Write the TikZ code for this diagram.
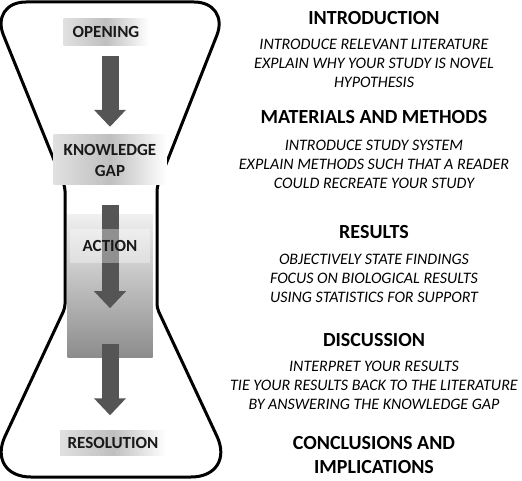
\documentclass[tikz,border=0pt]{standalone}
\usepackage{fontspec}
\setmainfont{Carlito}
\usetikzlibrary{arrows.meta,positioning}
\definecolor{arrowgrey}{HTML}{555555}

\begin{document}
\begin{tikzpicture}[x=1pt,y=-1pt,
  flask/.style={line width=3pt,draw=black,line join=round},
  tag/.style={font=\fontsize{17}{21}\selectfont\bfseries,align=center,inner sep=0pt,text=black!90},
  glow/.style={tag,left color=black!12,right color=white,middle color=black!25},
  heading/.style={font=\fontsize{20}{24}\selectfont\bfseries,align=center,inner sep=0pt},
  notes/.style={font=\fontsize{16}{19}\selectfont\itshape,align=center,inner sep=0pt},
  flow/.style={line width=17pt,draw=arrowgrey,-{Triangle[length=17pt,width=31pt,fill=arrowgrey]}}]

  \useasboundingbox (0,0) rectangle (522,481);

  % flask outline
  \draw[flask] (110,2) [rounded corners=36pt] -- (230,2) [rounded corners=4pt] -- (157,187) -- (157,308)
     [rounded corners=45pt] -- (236,477) -- (-14,477) [rounded corners=4pt] -- (65,308) -- (65,187)
     [rounded corners=36pt] -- (-10,2) -- cycle;

  % left labels
  \node[glow,minimum width=85pt,minimum height=27pt] (open) at (106,32) {OPENING};
  \node[glow,minimum width=113pt,minimum height=50pt] (gap) at (110,160) {KNOWLEDGE\\GAP};
  \node[inner sep=0pt,minimum width=85pt,minimum height=142pt,
        top color=black!6,bottom color=black!45] (actbox) at (110,286) {};
  \node[glow,minimum width=106pt,minimum height=25pt] (res) at (113,443) {RESOLUTION};

  % arrows
  \draw[flow,shorten <=10pt,shorten >=8pt] (gap.north |- open.south) -- (gap.north);
  \draw[flow,shorten <=20pt,shorten >=49pt] (gap.south) -- (actbox.south);
  \draw[flow,shorten <=-13pt,shorten >=15pt] (actbox.south) -- (res.north -| actbox.south);

  \node[tag,fill=white,fill opacity=0.35,text opacity=1,minimum width=80pt,minimum height=33pt] (action) at (110,246) {ACTION};

  % right column
  \node[heading] (intro) at (374,18) {INTRODUCTION};
  \node[notes] (introtxt) at (374,63) {INTRODUCE RELEVANT LITERATURE\\EXPLAIN WHY YOUR STUDY IS NOVEL\\HYPOTHESIS};
  \node[heading] (meth) at (374,117) {MATERIALS AND METHODS};
  \node[notes] (methtxt) at (374,164) {INTRODUCE STUDY SYSTEM\\EXPLAIN METHODS SUCH THAT A READER\\COULD RECREATE YOUR STUDY};
  \node[heading] (resu) at (374,232) {RESULTS};
  \node[notes] (resutxt) at (374,278) {OBJECTIVELY STATE FINDINGS\\FOCUS ON BIOLOGICAL RESULTS\\USING STATISTICS FOR SUPPORT};
  \node[heading] (disc) at (374,340) {DISCUSSION};
  \node[notes] (disctxt) at (374,385) {INTERPRET YOUR RESULTS\\TIE YOUR RESULTS BACK TO THE LITERATURE\\BY ANSWERING THE KNOWLEDGE GAP};
  \node[heading] (concl) at (374,455) {CONCLUSIONS AND\\IMPLICATIONS};
\end{tikzpicture}
\end{document}
